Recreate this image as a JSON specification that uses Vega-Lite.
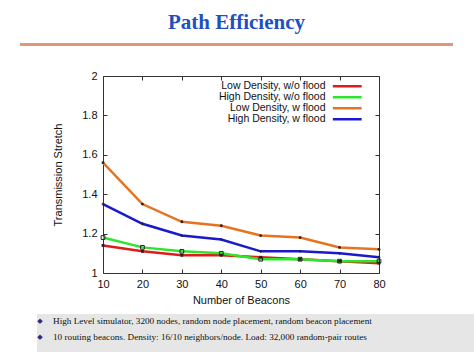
{
  "$schema": "https://vega.github.io/schema/vega-lite/v6.json",
  "padding": {"left": 20, "top": 11, "right": 0, "bottom": 0},
  "background": "white",
  "config": {
    "view": {"stroke": null},
    "font": "Liberation Sans"
  },
  "datasets": {
    "series": [
      {"series": "Low Density, w/o flood", "beacons": 10, "stretch": 1.14},
      {"series": "Low Density, w/o flood", "beacons": 20, "stretch": 1.11},
      {"series": "Low Density, w/o flood", "beacons": 30, "stretch": 1.09},
      {"series": "Low Density, w/o flood", "beacons": 40, "stretch": 1.09},
      {"series": "Low Density, w/o flood", "beacons": 50, "stretch": 1.08},
      {"series": "Low Density, w/o flood", "beacons": 60, "stretch": 1.07},
      {"series": "Low Density, w/o flood", "beacons": 70, "stretch": 1.06},
      {"series": "Low Density, w/o flood", "beacons": 80, "stretch": 1.05},
      {"series": "High Density, w/o flood", "beacons": 10, "stretch": 1.18},
      {"series": "High Density, w/o flood", "beacons": 20, "stretch": 1.13},
      {"series": "High Density, w/o flood", "beacons": 30, "stretch": 1.11},
      {"series": "High Density, w/o flood", "beacons": 40, "stretch": 1.10},
      {"series": "High Density, w/o flood", "beacons": 50, "stretch": 1.07},
      {"series": "High Density, w/o flood", "beacons": 60, "stretch": 1.07},
      {"series": "High Density, w/o flood", "beacons": 70, "stretch": 1.06},
      {"series": "High Density, w/o flood", "beacons": 80, "stretch": 1.06},
      {"series": "Low Density, w flood", "beacons": 10, "stretch": 1.56},
      {"series": "Low Density, w flood", "beacons": 20, "stretch": 1.35},
      {"series": "Low Density, w flood", "beacons": 30, "stretch": 1.26},
      {"series": "Low Density, w flood", "beacons": 40, "stretch": 1.24},
      {"series": "Low Density, w flood", "beacons": 50, "stretch": 1.19},
      {"series": "Low Density, w flood", "beacons": 60, "stretch": 1.18},
      {"series": "Low Density, w flood", "beacons": 70, "stretch": 1.13},
      {"series": "Low Density, w flood", "beacons": 80, "stretch": 1.12},
      {"series": "High Density, w flood", "beacons": 10, "stretch": 1.35},
      {"series": "High Density, w flood", "beacons": 20, "stretch": 1.25},
      {"series": "High Density, w flood", "beacons": 30, "stretch": 1.19},
      {"series": "High Density, w flood", "beacons": 40, "stretch": 1.17},
      {"series": "High Density, w flood", "beacons": 50, "stretch": 1.11},
      {"series": "High Density, w flood", "beacons": 60, "stretch": 1.11},
      {"series": "High Density, w flood", "beacons": 70, "stretch": 1.10},
      {"series": "High Density, w flood", "beacons": 80, "stretch": 1.08}
    ],
    "notes": [
      {"line": 1, "bullet": "◆", "text": "High Level simulator, 3200 nodes, random node placement, random beacon placement"},
      {"line": 2, "bullet": "◆", "text": "10 routing beacons. Density: 16/10 neighbors/node. Load: 32,000 random-pair routes"}
    ]
  },
  "vconcat": [
    {
      "width": 433,
      "height": 3,
      "view": {"fill": "#E0977A", "stroke": null},
      "title": {"text": "Path Efficiency", "font": "Liberation Serif", "fontSize": 21, "fontWeight": "bold", "color": "#1F4FC0", "anchor": "middle", "offset": 6},
      "data": {"values": [{}]},
      "mark": {"type": "text", "text": ""},
      "encoding": {}
    },
    {
      "spacing": 2,
      "vconcat": [
        {
          "spacing": 0,
          "hconcat": [
            {
              "width": 32,
              "height": 1,
              "data": {"values": [{}]},
              "mark": {"type": "text", "text": ""},
              "encoding": {}
            },
            {
              "width": 276,
              "height": 197,
              "view": {"stroke": "#333", "strokeWidth": 1},
              "data": {"name": "series"},
              "layer": [
                {
                  "mark": {"type": "line", "strokeWidth": 2.5},
                  "encoding": {
                    "x": {"field": "beacons", "type": "quantitative", "scale": {"domain": [10, 80], "nice": false},
                      "axis": {"orient": "bottom", "values": [10, 20, 30, 40, 50, 60, 70, 80], "labelFlush": false, "domain": false, "grid": false, "tickSize": -4, "tickColor": "#333", "labelFontSize": 11, "labelColor": "#111", "labelPadding": 9, "title": "Number of Beacons", "titleFontSize": 11, "titleFontWeight": "normal", "titleColor": "#111", "titlePadding": 5}},
                    "y": {"field": "stretch", "type": "quantitative", "scale": {"domain": [1, 2], "nice": false},
                      "axis": {"orient": "left", "values": [1, 1.2, 1.4, 1.6, 1.8, 2], "format": "~g", "labelFlush": false, "domain": false, "grid": false, "tickSize": -4, "tickColor": "#333", "labelFontSize": 11, "labelColor": "#111", "labelPadding": 10, "title": "Transmission Stretch", "titleFontSize": 11, "titleFontWeight": "normal", "titleColor": "#111", "titlePadding": 18}},
                    "color": {"field": "series", "type": "nominal",
                      "scale": {"domain": ["Low Density, w/o flood", "High Density, w/o flood", "Low Density, w flood", "High Density, w flood"], "range": ["#E01B1B", "#2EE52E", "#E8731E", "#1A1ACC"]},
                      "legend": {"title": null, "orient": "none", "legendX": 322, "legendY": 38, "symbolType": "M-4.8,0H4.8", "symbolSize": 36, "symbolStrokeWidth": 2.5, "labelFontSize": 10.5, "labelColor": "#111", "labelAlign": "right", "labelOffset": -27, "rowPadding": -1.5, "padding": 0}}
                  }
                },
                {
                  "transform": [{"filter": "datum.series !== 'High Density, w/o flood'"}],
                  "mark": {"type": "point", "filled": true, "color": "#222", "size": 8, "opacity": 1},
                  "encoding": {
                    "x": {"field": "beacons", "type": "quantitative", "axis": null},
                    "y": {"field": "stretch", "type": "quantitative", "axis": null},
                    "shape": {"field": "series", "type": "nominal", "scale": {"domain": ["Low Density, w/o flood", "Low Density, w flood", "High Density, w flood"], "range": ["square", "circle", "cross"]}, "legend": null}
                  }
                },
                {
                  "transform": [{"filter": "datum.series === 'High Density, w/o flood'"}],
                  "mark": {"type": "point", "shape": "square", "filled": false, "color": "#222", "size": 14, "strokeWidth": 1, "opacity": 1},
                  "encoding": {
                    "x": {"field": "beacons", "type": "quantitative", "axis": null},
                    "y": {"field": "stretch", "type": "quantitative", "axis": null}
                  }
                },
                {
                  "mark": {"type": "point", "opacity": 0},
                  "encoding": {
                    "x": {"field": "beacons", "type": "quantitative", "axis": {"orient": "top", "values": [10, 20, 30, 40, 50, 60, 70, 80], "domain": false, "grid": false, "labels": false, "tickSize": -4, "tickColor": "#333", "title": null}},
                    "y": {"field": "stretch", "type": "quantitative", "axis": {"orient": "right", "values": [1, 1.2, 1.4, 1.6, 1.8, 2], "domain": false, "grid": false, "labels": false, "tickSize": -4, "tickColor": "#333", "title": null}}
                  }
                }
              ],
              "resolve": {"axis": {"x": "independent", "y": "independent"}}
            }
          ]
        },
        {
          "spacing": 0,
          "hconcat": [
            {
              "width": 17,
              "height": 1,
              "data": {"values": [{}]},
              "mark": {"type": "text", "text": ""},
              "encoding": {}
            },
            {
              "width": 437,
              "height": 38,
              "view": {"fill": "#E6E6E6", "stroke": null},
              "data": {"name": "notes"},
              "layer": [
                {
                  "mark": {"type": "text", "align": "center", "baseline": "middle", "font": "DejaVu Sans", "fontSize": 7, "color": "#2B2B8C", "dx": 3},
                  "encoding": {
                    "x": {"datum": 0, "type": "quantitative", "scale": {"domain": [0, 1]}, "axis": null},
                    "y": {"field": "line", "type": "ordinal", "scale": {"type": "point", "domain": [1, 2], "padding": 0.6875, "align": 0.3}, "axis": null},
                    "text": {"field": "bullet"}
                  }
                },
                {
                  "mark": {"type": "text", "align": "left", "baseline": "middle", "font": "Liberation Serif", "fontSize": 9.2, "color": "#111", "dx": 16},
                  "encoding": {
                    "x": {"datum": 0, "type": "quantitative", "scale": {"domain": [0, 1]}, "axis": null},
                    "y": {"field": "line", "type": "ordinal", "scale": {"type": "point", "domain": [1, 2], "padding": 0.6875, "align": 0.3}, "axis": null},
                    "text": {"field": "text"}
                  }
                }
              ]
            }
          ]
        }
      ]
    }
  ],
  "spacing": 19
}
